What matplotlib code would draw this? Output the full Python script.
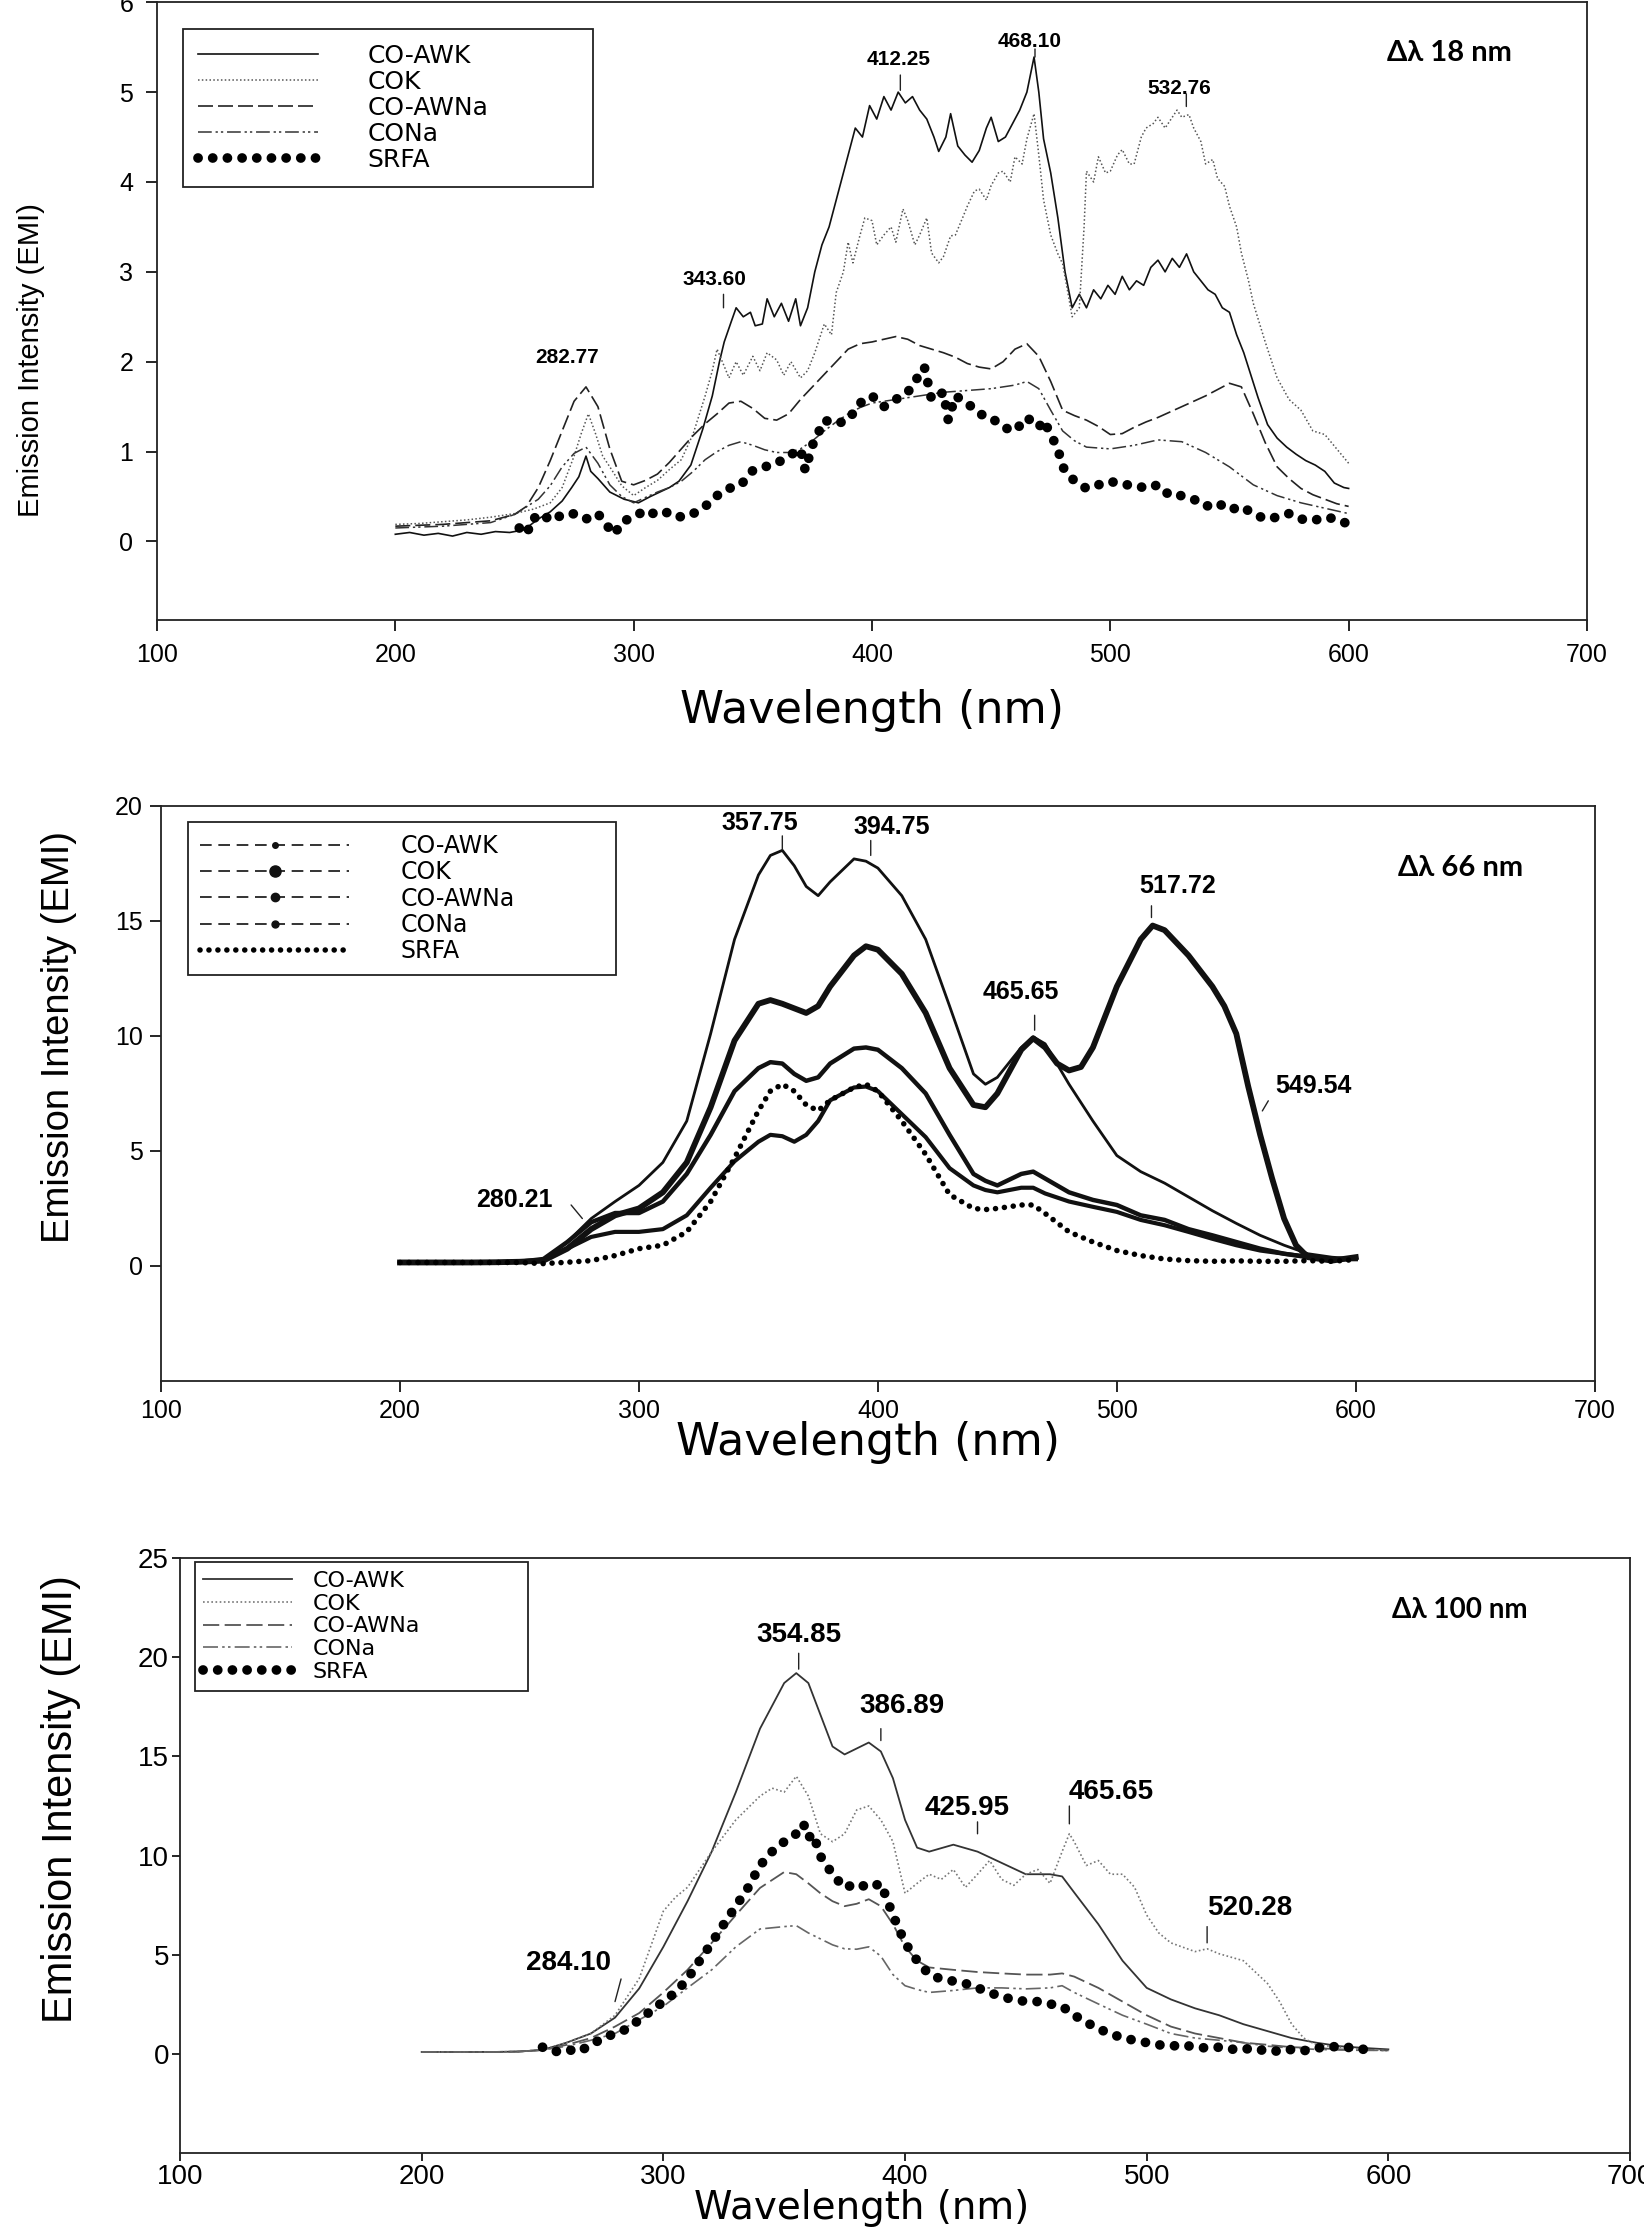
import matplotlib
matplotlib.use('Agg')
import matplotlib.pyplot as plt
from matplotlib.lines import Line2D

plt.rcParams['font.family'] = ['Liberation Sans', 'DejaVu Sans']
WIDE = ['DejaVu Sans']

names = ['CO-AWK', 'COK', 'CO-AWNa', 'CONa', 'SRFA']

# ---------------- panel 1 (delta 18 nm) ----------------
p1_awk_x = [200, 206, 212, 218, 224, 230, 236, 242, 248, 254,
            260, 265, 270, 274, 277, 280, 282, 285, 290, 296,
            302, 307, 311, 315, 319, 324, 329, 333, 336, 338,
            341, 343, 346, 349, 351, 354, 356, 359, 362, 365,
            368, 370, 373, 376, 379, 382, 386, 390, 393, 396,
            399, 402, 405, 408, 411, 414, 417, 420, 423, 426,
            428, 431, 433, 436, 439, 442, 445, 448, 450, 453,
            456, 459, 462, 465, 468, 470, 472, 475, 478, 481,
            484, 487, 490, 493, 496, 499, 502, 505, 508, 511,
            514, 517, 520, 523, 526, 529, 532, 535, 538, 541,
            544, 547, 550, 553, 556, 559, 562, 566, 570, 574,
            578, 582, 586, 590, 594, 598, 600]
p1_awk_y = [0.08, 0.10, 0.07, 0.09, 0.06, 0.10, 0.08, 0.11, 0.10, 0.13,
            0.25, 0.33, 0.45, 0.60, 0.72, 0.95, 0.78, 0.70, 0.55, 0.47,
            0.43, 0.50, 0.55, 0.60, 0.67, 0.85, 1.25, 1.62, 2.00, 2.22,
            2.45, 2.60, 2.50, 2.55, 2.40, 2.42, 2.70, 2.50, 2.65, 2.45,
            2.70, 2.40, 2.60, 3.00, 3.30, 3.50, 3.90, 4.30, 4.60, 4.50,
            4.85, 4.70, 4.95, 4.80, 5.00, 4.88, 4.95, 4.80, 4.70, 4.50,
            4.34, 4.50, 4.76, 4.40, 4.30, 4.22, 4.35, 4.60, 4.72, 4.45,
            4.50, 4.65, 4.80, 5.00, 5.39, 5.00, 4.48, 4.10, 3.60, 3.00,
            2.60, 2.75, 2.60, 2.80, 2.70, 2.85, 2.75, 2.95, 2.80, 2.90,
            2.85, 3.05, 3.13, 3.00, 3.15, 3.05, 3.20, 3.00, 2.90, 2.80,
            2.75, 2.60, 2.55, 2.30, 2.10, 1.85, 1.60, 1.30, 1.15, 1.05,
            0.97, 0.90, 0.85, 0.78, 0.65, 0.60, 0.59]

p1_cok_x = [200, 210, 220, 230, 240, 250, 258, 265, 270, 275,
            278, 281, 284, 287, 290, 295, 300, 305, 310, 315,
            320, 325, 330, 333, 335, 338, 340, 343, 346, 350,
            353, 356, 360, 363, 366, 370, 373, 376, 380, 383,
            385, 388, 390, 392, 395, 397, 400, 402, 405, 408,
            410, 413, 415, 418, 420, 423, 425, 428, 430, 433,
            435, 438, 440, 443, 445, 448, 450, 453, 455, 458,
            460, 463, 465, 468, 470, 472, 475, 478, 480, 482,
            484, 487, 489, 490, 493, 495, 498, 500, 503, 505,
            508, 510, 513, 515, 518, 520, 523, 525, 528, 530,
            533, 535, 538, 540, 543, 545, 548, 550, 553, 555,
            558, 560, 565, 570, 575, 580, 585, 590, 595, 600]
p1_cok_y = [0.19, 0.20, 0.22, 0.24, 0.27, 0.31, 0.36, 0.43, 0.60, 0.95,
            1.20, 1.42, 1.20, 0.95, 0.83, 0.62, 0.51, 0.60, 0.68, 0.80,
            0.91, 1.20, 1.62, 1.90, 2.14, 1.95, 1.82, 2.00, 1.85, 2.06,
            1.90, 2.10, 2.02, 1.85, 2.00, 1.82, 1.90, 2.10, 2.42, 2.30,
            2.77, 3.00, 3.33, 3.10, 3.41, 3.60, 3.57, 3.30, 3.41, 3.50,
            3.33, 3.70, 3.57, 3.30, 3.41, 3.60, 3.21, 3.10, 3.17, 3.40,
            3.41, 3.60, 3.73, 3.90, 3.92, 3.80, 3.96, 4.10, 4.12, 4.00,
            4.28, 4.20, 4.48, 4.76, 4.30, 3.80, 3.41, 3.20, 3.09, 2.80,
            2.50, 2.60, 3.50, 4.12, 4.00, 4.28, 4.10, 4.12, 4.30, 4.36,
            4.20, 4.20, 4.50, 4.60, 4.65, 4.72, 4.60, 4.68, 4.80, 4.72,
            4.75, 4.60, 4.45, 4.20, 4.25, 4.04, 3.95, 3.73, 3.50, 3.21,
            2.90, 2.65, 2.22, 1.82, 1.58, 1.46, 1.23, 1.19, 1.03, 0.87]

p1_awna_x = [200, 210, 220, 230, 240, 250, 255, 260, 265, 270,
             275, 280, 285, 290, 295, 300, 305, 310, 315, 320,
             325, 330, 335, 340, 345, 350, 355, 360, 365, 370,
             375, 380, 385, 390, 395, 400, 405, 410, 415, 420,
             425, 430, 435, 440, 445, 450, 455, 460, 465, 470,
             475, 480, 485, 490, 495, 500, 505, 510, 515, 520,
             525, 530, 535, 540, 545, 550, 555, 560, 565, 570,
             575, 580, 585, 590, 595, 600]
p1_awna_y = [0.17, 0.18, 0.19, 0.21, 0.23, 0.30, 0.39, 0.60, 0.90, 1.23,
             1.56, 1.72, 1.50, 1.03, 0.67, 0.63, 0.68, 0.75, 0.88, 1.03,
             1.18, 1.31, 1.42, 1.54, 1.56, 1.48, 1.37, 1.35, 1.42, 1.58,
             1.72, 1.86, 2.00, 2.14, 2.20, 2.22, 2.25, 2.28, 2.25, 2.18,
             2.14, 2.10, 2.05, 1.98, 1.94, 1.92, 2.00, 2.14, 2.20, 2.06,
             1.78, 1.46, 1.40, 1.35, 1.28, 1.19, 1.20, 1.27, 1.33, 1.38,
             1.44, 1.50, 1.56, 1.62, 1.69, 1.76, 1.72, 1.42, 1.10, 0.83,
             0.70, 0.59, 0.52, 0.47, 0.42, 0.39]

p1_cona_x = [200, 210, 220, 230, 240, 250, 260, 265, 270, 275,
             280, 285, 290, 295, 300, 305, 310, 315, 320, 325,
             330, 335, 340, 345, 350, 355, 360, 365, 370, 375,
             380, 385, 390, 395, 400, 410, 420, 430, 440, 450,
             460, 465, 470, 475, 480, 485, 490, 500, 510, 520,
             530, 540, 550, 560, 570, 580, 590, 600]
p1_cona_y = [0.15, 0.16, 0.17, 0.19, 0.21, 0.30, 0.47, 0.62, 0.83, 0.98,
             1.05, 0.87, 0.63, 0.50, 0.43, 0.49, 0.55, 0.60, 0.67, 0.78,
             0.91, 1.00, 1.07, 1.11, 1.07, 1.02, 0.99, 0.99, 1.03, 1.12,
             1.23, 1.33, 1.42, 1.49, 1.54, 1.58, 1.62, 1.66, 1.68, 1.70,
             1.74, 1.78, 1.70, 1.46, 1.23, 1.12, 1.05, 1.03, 1.07, 1.13,
             1.11, 0.99, 0.83, 0.63, 0.51, 0.43, 0.37, 0.31]

p1_srfa_x = [252, 255, 258, 262, 265, 270, 275, 280, 285, 288,
             292, 295, 300, 305, 310, 315, 320, 325, 330, 335,
             340, 345, 350, 355, 360, 365, 370, 372, 375, 380,
             385, 390, 395, 400, 405, 410, 415, 420, 422, 425,
             430, 432, 435, 440, 445, 450, 455, 460, 465, 470,
             472, 475, 478, 480, 485, 490, 495, 500, 505, 510,
             515, 520, 525, 530, 535, 540, 545, 550, 555, 560,
             565, 570, 575, 580, 585, 590, 595, 600]
p1_srfa_y = [0.15, 0.08, 0.27, 0.22, 0.31, 0.27, 0.31, 0.25, 0.31, 0.20,
             0.08, 0.22, 0.27, 0.35, 0.29, 0.33, 0.27, 0.31, 0.39, 0.51,
             0.59, 0.63, 0.79, 0.83, 0.87, 0.95, 1.03, 0.79, 1.07, 1.35,
             1.31, 1.35, 1.54, 1.62, 1.50, 1.58, 1.66, 1.86, 1.94, 1.58,
             1.66, 1.35, 1.62, 1.54, 1.42, 1.38, 1.27, 1.23, 1.38, 1.27,
             1.35, 1.19, 1.03, 0.83, 0.67, 0.59, 0.63, 0.67, 0.63, 0.63,
             0.59, 0.63, 0.51, 0.51, 0.47, 0.39, 0.43, 0.35, 0.39, 0.31,
             0.25, 0.27, 0.31, 0.25, 0.23, 0.27, 0.25, 0.19]

# ---------------- panel 2 (delta 66 nm) ----------------
x2 = [200, 210, 220, 230, 240, 250, 260, 270, 280, 290,
      300, 310, 320, 330, 340, 350, 355, 360, 365, 370,
      375, 380, 390, 395, 400, 410, 420, 430, 440, 445,
      450, 460, 465, 470, 480, 490, 500, 510, 520, 530,
      540, 550, 560, 570, 580, 590, 600]
p2_awk = [0.15, 0.15, 0.15, 0.15, 0.16, 0.18, 0.30, 1.04, 2.06, 2.80,
          3.50, 4.50, 6.30, 10.1, 14.2, 17.0, 17.85, 18.07, 17.4, 16.5,
          16.1, 16.7, 17.7, 17.6, 17.3, 16.1, 14.2, 11.3, 8.35, 7.90,
          8.20, 9.50, 9.96, 9.66, 7.90, 6.30, 4.80, 4.10, 3.60, 3.00,
          2.40, 1.85, 1.33, 0.90, 0.53, 0.38, 0.30]
p2_awna = [0.15, 0.15, 0.15, 0.15, 0.16, 0.18, 0.30, 1.04, 1.90, 2.30,
           2.30, 2.80, 4.00, 5.70, 7.60, 8.60, 8.86, 8.80, 8.35, 8.05,
           8.20, 8.80, 9.45, 9.50, 9.40, 8.60, 7.50, 5.70, 4.00, 3.70,
           3.50, 4.00, 4.10, 3.80, 3.20, 2.87, 2.65, 2.20, 2.00, 1.60,
           1.33, 1.04, 0.75, 0.53, 0.38, 0.30, 0.30]
p2_cona = [0.15, 0.15, 0.15, 0.15, 0.16, 0.18, 0.23, 0.75, 1.26, 1.48,
           1.48, 1.60, 2.20, 3.40, 4.55, 5.40, 5.70, 5.64, 5.40, 5.70,
           6.30, 7.20, 7.76, 7.80, 7.60, 6.60, 5.60, 4.25, 3.50, 3.30,
           3.20, 3.40, 3.40, 3.15, 2.80, 2.57, 2.35, 2.00, 1.77, 1.48,
           1.18, 0.90, 0.67, 0.53, 0.40, 0.30, 0.30]
p2_srfa = [0.15, 0.15, 0.15, 0.15, 0.15, 0.15, 0.10, 0.16, 0.23, 0.45,
           0.75, 0.90, 1.48, 2.80, 4.70, 6.75, 7.60, 7.90, 7.60, 7.00,
           6.75, 7.20, 7.76, 7.90, 7.60, 6.30, 4.85, 3.10, 2.50, 2.45,
           2.50, 2.65, 2.65, 2.28, 1.48, 1.04, 0.67, 0.45, 0.30, 0.23,
           0.20, 0.22, 0.20, 0.20, 0.23, 0.20, 0.28]
p2_cok_x = [200, 210, 220, 230, 240, 250, 260, 270, 280, 290,
            300, 310, 320, 330, 340, 350, 355, 360, 365, 370,
            375, 380, 390, 395, 400, 410, 420, 430, 440, 445,
            450, 460, 465, 470, 475, 480, 485, 490, 500, 510,
            515, 520, 530, 540, 545, 550, 555, 560, 565, 570,
            575, 580, 590, 600]
p2_cok_y = [0.15, 0.15, 0.15, 0.15, 0.16, 0.18, 0.23, 0.75, 1.60, 2.20,
            2.50, 3.20, 4.50, 6.90, 9.80, 11.4, 11.56, 11.4, 11.2, 11.0,
            11.3, 12.15, 13.5, 13.9, 13.75, 12.7, 11.0, 8.60, 7.00, 6.90,
            7.50, 9.40, 9.90, 9.50, 8.80, 8.50, 8.65, 9.50, 12.15, 14.2,
            14.8, 14.6, 13.5, 12.15, 11.3, 10.1, 7.80, 5.70, 3.80, 2.06,
            0.90, 0.38, 0.23, 0.38]

# ---------------- panel 3 (delta 100 nm) ----------------
x3 = [200, 210, 220, 230, 240, 250, 260, 270, 280, 290,
      300, 310, 320, 330, 340, 350, 355, 360, 365, 370,
      375, 380, 385, 390, 395, 400, 405, 410, 420, 430,
      440, 450, 460, 465, 470, 480, 490, 500, 510, 520,
      530, 540, 550, 560, 570, 580, 590, 600]
p3_awk = [0.10, 0.10, 0.10, 0.10, 0.12, 0.20, 0.57, 1.03, 1.83, 3.30,
          5.40, 7.70, 10.2, 13.2, 16.4, 18.7, 19.2, 18.7, 17.1, 15.5,
          15.1, 15.4, 15.7, 15.25, 13.9, 11.8, 10.4, 10.2, 10.55, 10.2,
          9.63, 9.06, 9.06, 8.95, 8.14, 6.54, 4.70, 3.33, 2.75, 2.30,
          1.95, 1.50, 1.15, 0.80, 0.57, 0.39, 0.30, 0.23]
p3_awna = [0.10, 0.10, 0.10, 0.10, 0.12, 0.20, 0.46, 0.80, 1.38, 2.06,
           3.10, 4.24, 5.60, 7.00, 8.37, 9.17, 9.06, 8.60, 8.10, 7.70,
           7.45, 7.57, 7.80, 7.45, 6.54, 5.40, 4.70, 4.36, 4.24, 4.13,
           4.06, 4.00, 4.00, 4.06, 3.90, 3.33, 2.64, 1.95, 1.38, 1.03,
           0.80, 0.57, 0.46, 0.34, 0.30, 0.23, 0.20, 0.18]
p3_cona = [0.10, 0.10, 0.10, 0.10, 0.12, 0.20, 0.39, 0.69, 1.03, 1.72,
           2.40, 3.33, 4.24, 5.40, 6.30, 6.42, 6.47, 6.10, 5.80, 5.50,
           5.30, 5.28, 5.40, 4.93, 4.00, 3.44, 3.25, 3.10, 3.20, 3.33,
           3.33, 3.28, 3.33, 3.44, 3.10, 2.52, 1.95, 1.50, 1.03, 0.80,
           0.69, 0.57, 0.39, 0.30, 0.23, 0.20, 0.18, 0.18]
p3_cok_x = [200, 210, 220, 230, 240, 250, 260, 270, 280, 290,
            300, 305, 310, 320, 330, 340, 345, 350, 355, 360,
            365, 370, 375, 380, 385, 390, 395, 400, 405, 410,
            415, 420, 425, 430, 435, 440, 445, 450, 455, 460,
            465, 468, 470, 475, 480, 485, 490, 495, 500, 505,
            510, 520, 525, 530, 540, 550, 555, 560, 565, 570,
            580, 590, 600]
p3_cok_y = [0.10, 0.10, 0.10, 0.10, 0.12, 0.20, 0.57, 1.03, 1.95, 3.80,
            7.20, 7.90, 8.40, 10.2, 11.8, 13.0, 13.4, 13.2, 14.0, 13.0,
            11.1, 10.7, 11.1, 12.3, 12.5, 11.8, 10.7, 8.10, 8.60, 9.06,
            8.80, 9.30, 8.40, 9.06, 9.75, 8.80, 8.50, 9.06, 9.30, 8.60,
            10.2, 11.1, 10.7, 9.50, 9.75, 9.06, 9.06, 8.40, 7.00, 6.10,
            5.60, 5.16, 5.30, 5.05, 4.70, 3.55, 2.64, 1.50, 0.80, 0.46,
            0.34, 0.23, 0.16]
p3_srfa_x = [250, 255, 260, 265, 270, 275, 280, 285, 290, 295,
             300, 305, 310, 315, 320, 325, 330, 335, 340, 345,
             350, 355, 358, 360, 362, 365, 370, 375, 380, 385,
             390, 395, 400, 405, 410, 415, 420, 425, 430, 435,
             440, 445, 450, 455, 460, 465, 470, 475, 480, 485,
             490, 495, 500, 505, 510, 515, 520, 525, 530, 535,
             540, 545, 550, 555, 560, 565, 570, 575, 580, 585,
             590, 595]
p3_srfa_y = [0.34, 0.11, 0.23, 0.11, 0.46, 0.80, 1.03, 1.26, 1.72, 2.18,
             2.64, 3.10, 3.78, 4.70, 5.60, 6.54, 7.45, 8.37, 9.50, 10.2,
             10.7, 11.1, 11.6, 10.9, 11.1, 9.97, 9.06, 8.37, 8.60, 8.37,
             8.60, 7.00, 5.60, 4.70, 4.00, 3.78, 3.67, 3.55, 3.33, 3.10,
             2.87, 2.75, 2.64, 2.64, 2.52, 2.40, 1.95, 1.60, 1.26, 1.03,
             0.80, 0.69, 0.57, 0.46, 0.39, 0.46, 0.34, 0.30, 0.34, 0.23,
             0.30, 0.16, 0.23, 0.11, 0.23, 0.16, 0.30, 0.34, 0.39, 0.30,
             0.23, 0.11]

# peak labels: text, text position, tick start, tick end
p1_peaks = [('282.77', (272, 2.05), None, None),
            ('343.60', (334, 2.92), (337.7, 2.75), (337.7, 2.60)),
            ('412.25', (411, 5.36), (411.9, 5.19), (411.9, 5.02)),
            ('468.10', (466, 5.56), (468.4, 5.48), (468.4, 5.39)),
            ('532.76', (529, 5.04), (531.9, 4.98), (531.9, 4.84))]
p2_peaks = [('357.75', (350.5, 19.25), (360, 18.7), (360, 18.1)),
            ('394.75', (405.7, 19.1), (397, 18.5), (397, 17.85)),
            ('465.65', (460, 11.9), (465.6, 10.9), (465.6, 10.25)),
            ('517.72', (525.6, 16.5), (514.5, 15.66), (514.5, 15.15)),
            ('549.54', (582.5, 7.84), (563.4, 7.18), (560.9, 6.74)),
            ('280.21', (248, 2.87), (271.6, 2.65), (276.3, 2.06))]
p3_peaks = [('354.85', (356.2, 21.1), (356, 20.2), (356, 19.4)),
            ('386.89', (398.7, 17.55), (390, 16.4), (390, 15.8)),
            ('425.95', (425.6, 12.4), (430, 11.7), (430, 11.1)),
            ('465.65', (485.5, 13.2), (468, 12.5), (468, 11.6)),
            ('520.28', (542.7, 7.34), (525, 6.42), (525, 5.6)),
            ('284.10', (260.7, 4.6), (282.5, 3.78), (280, 2.64))]

fig = plt.figure(figsize=(16.44, 22.37), dpi=100)
ax1 = fig.add_axes([0.0955, 0.723, 0.8698, 0.276])
ax2 = fig.add_axes([0.098, 0.3827, 0.872, 0.257])
ax3 = fig.add_axes([0.1095, 0.0375, 0.882, 0.266])


def style_axis(ax, ylim, yticks, tick_fs, lab_fs, ylab_fs, xlab_pos, ylab_pos, pad, tlen=8):
    ax.set_xlim(100, 700)
    ax.set_ylim(*ylim)
    ax.set_xticks(range(100, 701, 100))
    ax.set_yticks(yticks)
    ax.tick_params(direction='out', length=tlen, width=1.2, labelsize=tick_fs, pad=pad)
    for s in ax.spines.values():
        s.set_linewidth(1.3)
        s.set_color('#222222')
    ax.set_xlabel('Wavelength (nm)', fontsize=lab_fs, family=WIDE)
    ax.set_ylabel('Emission Intensity (EMI)', fontsize=ylab_fs)
    ax.xaxis.set_label_coords(*xlab_pos)
    ax.yaxis.set_label_coords(*ylab_pos)


def put_peaks(ax, peaks, fs):
    for txt, (tx, ty), t0, t1 in peaks:
        ax.text(tx, ty, txt, ha='center', va='center', fontsize=fs, fontweight='bold')
        if t0 is not None:
            ax.annotate('', xy=t1, xytext=t0,
                        arrowprops=dict(arrowstyle='-', lw=1.0, color='#222222',
                                        shrinkA=0, shrinkB=0))


def boxed_legend(ax, handles, anchor, fs, hl, htp, ls, bp):
    leg = ax.legend(handles, names, loc='upper left', bbox_to_anchor=anchor,
                    mode='expand', borderaxespad=0, prop={'family': WIDE, 'size': fs},
                    handlelength=hl, handletextpad=htp, labelspacing=ls, numpoints=1,
                    frameon=True, fancybox=False, edgecolor='#222222', framealpha=1,
                    borderpad=bp)
    leg.get_frame().set_linewidth(1.3)


# panel 1
h1 = ax1.plot(p1_awk_x, p1_awk_y, color='#111111', lw=1.2)
h1 += ax1.plot(p1_cok_x, p1_cok_y, color='#555555', lw=1.1, ls=(0, (1, 1.5)))
h1 += ax1.plot(p1_awna_x, p1_awna_y, color='#222222', lw=1.2, ls=(0, (9, 3)))
h1 += ax1.plot(p1_cona_x, p1_cona_y, color='#333333', lw=1.1,
               ls=(0, (9, 2.5, 1.5, 2, 1.5, 2.5)))
h1 += ax1.plot(p1_srfa_x, p1_srfa_y, color='black', lw=7, ls=(0, (0.01, 1.5)),
               dash_capstyle='round')
style_axis(ax1, (-0.87, 6), range(0, 7), 18, 32, 21, (0.5, -0.112), (-0.078, 0.42), 9)
put_peaks(ax1, p1_peaks, 15)
ax1.text(642.5, 5.43, 'Δλ 18 nm', ha='center', va='center', fontsize=21,
         fontweight='bold', family=['Lato', 'DejaVu Sans'])
boxed_legend(ax1, h1, (0.018, 0.957, 0.287, 0.0), 18, 4.8, 2.0, 0.08, 0.6)

# panel 2
ax2.plot(x2, p2_awk, color='#111111', lw=2.0)
ax2.plot(p2_cok_x, p2_cok_y, color='#111111', lw=4.2)
ax2.plot(x2, p2_awna, color='#111111', lw=3.2)
ax2.plot(x2, p2_cona, color='#111111', lw=3.0)
ax2.plot(x2, p2_srfa, color='black', lw=4, ls=(0, (0.01, 1.6)), dash_capstyle='round')
style_axis(ax2, (-5, 20), range(0, 21, 5), 18, 32, 27.5, (0.493, -0.07), (-0.059, 0.598), 5)
put_peaks(ax2, p2_peaks, 18)
ax2.text(644, 17.3, 'Δλ 66 nm', ha='center', va='center', fontsize=21,
         fontweight='bold', family=['Lato', 'DejaVu Sans'])
h2 = [Line2D([], [], color='#111111', lw=1.2, ls=(0, (7, 4)), marker='o', ms=ms)
      for ms in (4, 8, 6, 5)]
h2.append(Line2D([], [], color='black', lw=4, ls=(0, (0.01, 1.6)), dash_capstyle='round'))
boxed_legend(ax2, h2, (0.019, 0.972, 0.298, 0.0), 17, 6.3, 2.2, 0.1, 0.5)

# panel 3
h3 = ax3.plot(x3, p3_awk, color='#333333', lw=1.3)
h3 += ax3.plot(p3_cok_x, p3_cok_y, color='#777777', lw=1.2, ls=(0, (1, 1.5)))
h3 += ax3.plot(x3, p3_awna, color='#555555', lw=1.3, ls=(0, (9, 3)))
h3 += ax3.plot(x3, p3_cona, color='#666666', lw=1.2, ls=(0, (9, 2.5, 1.5, 2, 1.5, 2.5)))
h3 += ax3.plot(p3_srfa_x, p3_srfa_y, color='black', lw=7, ls=(0, (0.01, 1.5)),
               dash_capstyle='round')
style_axis(ax3, (-5, 25), range(0, 26, 5), 20, 28, 30, (0.47, -0.06), (-0.068, 0.595), 2, 6)
put_peaks(ax3, p3_peaks, 20)
ax3.text(629.5, 22.4, 'Δλ 100 nm', ha='center', va='center', fontsize=20,
         fontweight='bold', family=['Lato', 'DejaVu Sans'])
boxed_legend(ax3, h3, (0.01, 0.993, 0.23, 0.0), 16, 4.0, 0.9, 0.12, 0.4)

fig.savefig('out.png', dpi=100)
